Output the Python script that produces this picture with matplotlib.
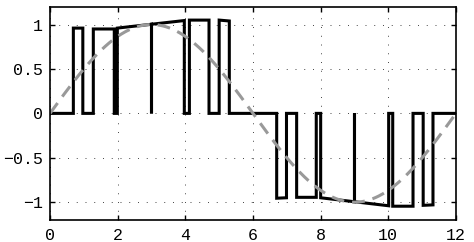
import numpy as np
import matplotlib
matplotlib.use('Agg')
import matplotlib.pyplot as plt

# PWM pulses (start, end, level at start, level at end)
pulse_start = [0.69, 1.28, 1.99, 4.12, 5.00, 6.70, 7.29, 8.00, 10.13, 11.03]
pulse_end = [0.97, 1.90, 3.97, 4.70, 5.30, 6.99, 7.87, 10.01, 10.73, 11.32]
level_start = [0.96, 0.95, 0.96, 1.05, 1.05, -0.955, -0.945, -0.95, -1.045, -1.035]
level_end = [0.96, 0.95, 1.045, 1.05, 1.04, -0.95, -0.945, -1.04, -1.045, -1.03]
# zero-width notches inside long pulses
notch_x = [3.0, 9.0]

# reference sine
t_ref = np.linspace(0, 12, 400)
y_ref = np.sin(np.pi * t_ref / 6)

# build the step signal as a polyline
tx, ty = [0.0], [0.0]
for s, e, a, b in zip(pulse_start, pulse_end, level_start, level_end):
    tx += [s, s]
    ty += [0.0, a]
    for n in notch_x:
        if s < n < e:
            lv = a + (b - a) * (n - s) / (e - s)
            tx += [n, n, n]
            ty += [lv, 0.0, lv]
    tx += [e, e]
    ty += [b, 0.0]
tx.append(12.0)
ty.append(0.0)

plt.rcParams['font.family'] = ['Liberation Mono', 'DejaVu Sans Mono']
fig = plt.figure(figsize=(4.74, 2.42), dpi=100)
ax = fig.add_axes([0.1055, 0.091, 0.8565, 0.881])

ax.plot(tx, ty, color='black', lw=2.2, solid_joinstyle='miter')
ax.plot(t_ref, y_ref, color='#999999', lw=2.2, dashes=(4.2, 2.6))

ax.set_xlim(0, 12)
ax.set_ylim(-1.2, 1.2)
ax.set_xticks([0, 2, 4, 6, 8, 10, 12])
ax.set_yticks([-1, -0.5, 0, 0.5, 1])
ax.set_yticklabels(['\u22121', '\u22120.5', '0', '0.5', '1'])
ax.grid(True, color='#444444', ls=(0, (1, 8)), lw=0.7)
ax.tick_params(direction='in', top=True, right=True, labelsize=12, length=3.5, width=1)
ax.tick_params(axis='x', pad=5.5)
ax.tick_params(axis='y', pad=5)
for sp in ax.spines.values():
    sp.set_linewidth(1.2)

fig.savefig('out.png', dpi=100)
